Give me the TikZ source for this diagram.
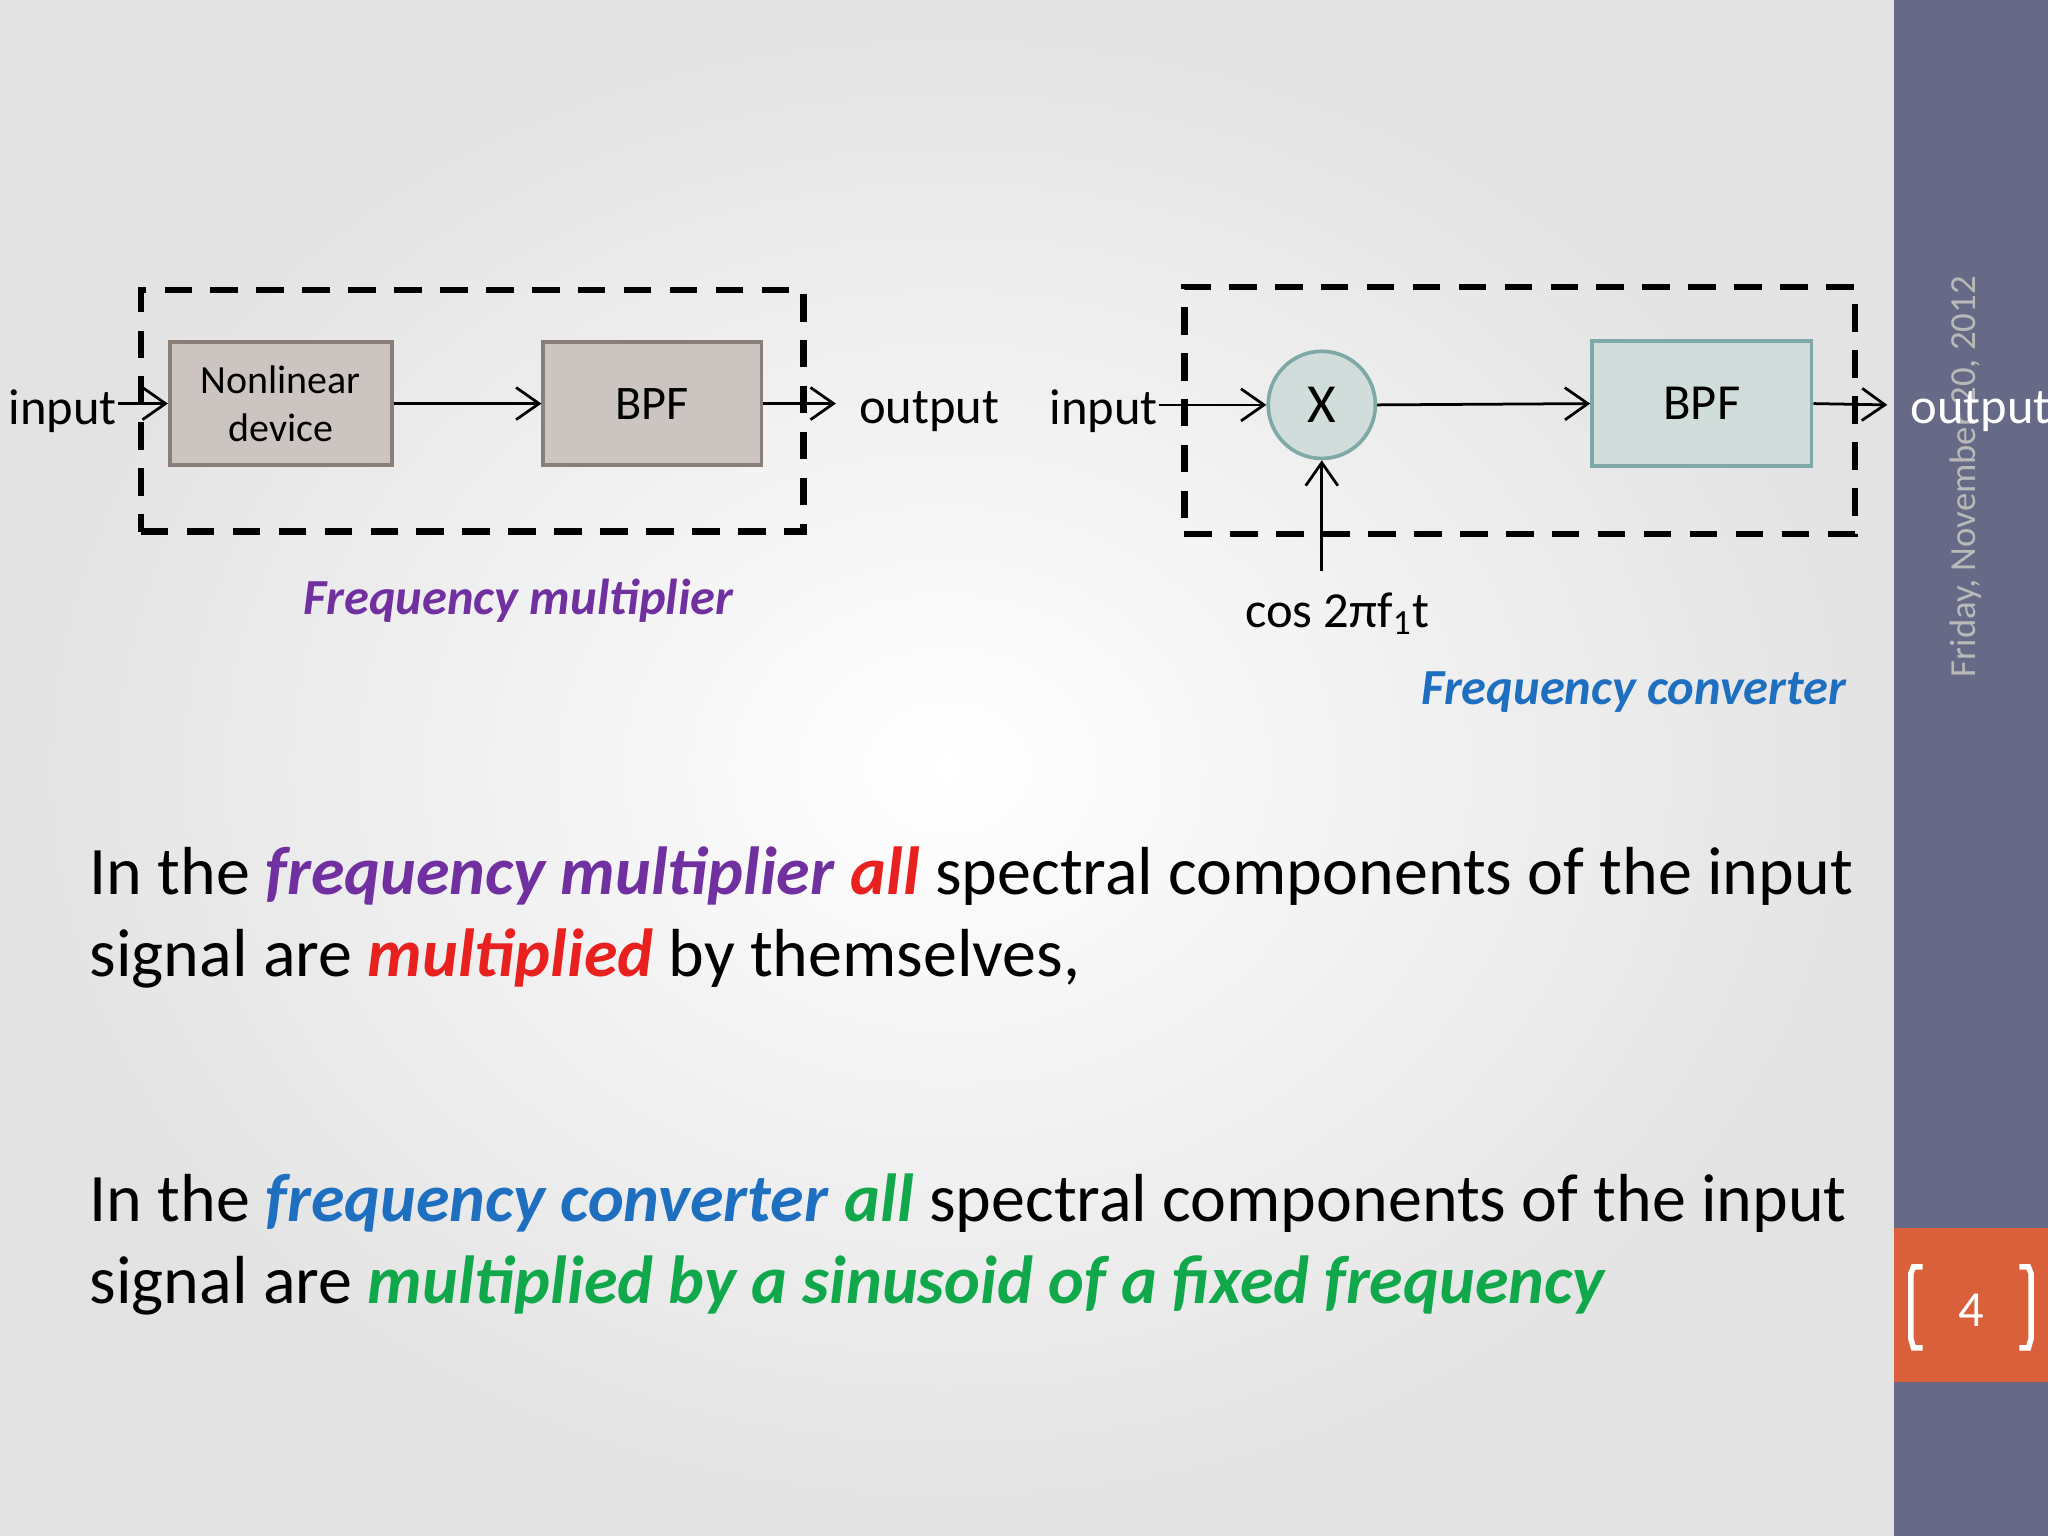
\documentclass[tikz,border=0pt]{standalone}
\usepackage{fontspec}
\setmainfont{Carlito}
\usetikzlibrary{arrows.meta}
\definecolor{side}{HTML}{666A86}
\definecolor{orng}{HTML}{D9603B}
\definecolor{purp}{HTML}{7030A0}
\definecolor{redc}{HTML}{E8201E}
\definecolor{bluc}{HTML}{1F6FC0}
\definecolor{grnc}{HTML}{10A84A}
\definecolor{lfill}{HTML}{CBC4C0}
\definecolor{ldraw}{HTML}{8A7F78}
\definecolor{rfill}{HTML}{D0DDDB}
\definecolor{rdraw}{HTML}{7FA9A6}
\begin{document}
\begin{tikzpicture}[x=0.01cm,y=-0.01cm,
  dbox/.style={draw,line width=1.4pt,dash pattern=on 6pt off 4pt},
  lbox/.style={draw=ldraw,fill=lfill,line width=0.8pt,font=\fontsize{8.7}{10.5}\selectfont,align=center},
  rbox/.style={draw=rdraw,fill=rfill,line width=0.8pt,font=\fontsize{11}{12}\selectfont},
  sig/.style={-{Straight Barb[length=5pt,width=7pt]},line width=0.6pt},
  lab/.style={font=\fontsize{11}{13}\selectfont},
  body/.style={font=\fontsize{14.8}{17}\selectfont,anchor=base west,inner sep=0}]
\useasboundingbox (0,0) rectangle (1568,1176);
\shade[inner color=white,middle color=white,outer color=gray!22] (0,0) rectangle (1450,1176);
\fill[side] (1450,0) rectangle (1568,1176);
\fill[orng] (1450,940) rectangle (1568,1058);
\draw[white,line width=1.2pt] (1472,970) -- (1465,970) -- (1463,975) -- (1463,1025) -- (1465,1032) -- (1472,1032);
\draw[white,line width=1.2pt] (1546,970) -- (1553,970) -- (1555,975) -- (1555,1025) -- (1553,1032) -- (1546,1032);
\node[white,font=\fontsize{11}{12}\selectfont] (pg) at (1509,1003) {4};
\node[gray!55,rotate=90,font=\fontsize{8}{9}\selectfont] (date) at (1505,365) {Friday, November 20, 2012};
% left diagram
\node[dbox,minimum width=5.07cm,minimum height=1.85cm,inner sep=0] (db1) at (361.5,314.5) {};
\node[lbox,minimum width=1.70cm,minimum height=0.94cm,inner sep=0] (nl) at (215,309) {Nonlinear\\device};
\node[lbox,minimum width=1.67cm,minimum height=0.94cm,inner sep=0,font=\fontsize{10.5}{12}\selectfont] (bpf1) at (499.5,309) {BPF};
\node[lab,anchor=east,inner sep=0] (in1) at (90,315) {input};
\node[lab,anchor=west,inner sep=0] (out1) at (657,315) {output};
\coordinate (o1) at (640,309);
\draw[sig] (in1.east |- nl.west) -- (nl.west);
\draw[sig] (nl.east) -- (bpf1.west);
\draw[sig] (bpf1.east) -- (o1);
\node[purp,font=\fontsize{11}{13}\selectfont\itshape\bfseries] (fm) at (397,460) {Frequency multiplier};
% right diagram
\node[dbox,minimum width=5.13cm,minimum height=1.89cm,inner sep=0] (db2) at (1163.5,314.5) {};
\node[circle,draw=rdraw,fill=rfill,line width=0.8pt,minimum size=0.82cm,inner sep=0,font=\fontsize{12}{14}\selectfont] (mx) at (1012,310) {X};
\node[rbox,minimum width=1.68cm,minimum height=0.96cm,inner sep=0] (bpf2) at (1303,309) {BPF};
\node[lab,anchor=east,inner sep=0] (in2) at (887,315) {input};
\node[lab,anchor=west,inner sep=0,white] (out2) at (1462,315) {output};
\coordinate (o2) at (1445,310);
\coordinate (cs) at (1012,437);
\draw[sig] (in2.east |- mx.west) -- (mx.west);
\draw[sig] (mx.east) -- (bpf2.west);
\draw[sig] (bpf2.east) -- (o2);
\draw[sig] (cs) -- (mx.south);
\node[lab] (cos) at (1024,470) {cos 2πf\textsubscript{1}t};
\node[bluc,font=\fontsize{11}{13}\selectfont\itshape\bfseries,anchor=east] (fc) at (1426,530) {Frequency converter};
% body
\node[body] (l1) at (68,685) {In the \textcolor{purp}{\textbf{\textit{frequency multiplier}}} \textcolor{redc}{\textbf{\textit{all}}} spectral components of the input};
\node[body] (l2) at (68,748) {signal are \textcolor{redc}{\textbf{\textit{multiplied}}} by themselves,};
\node[body] (l3) at (68,935) {In the \textcolor{bluc}{\textbf{\textit{frequency converter}}} \textcolor{grnc}{\textbf{\textit{all}}} spectral components of the input};
\node[body] (l4) at (68,998) {signal are \textcolor{grnc}{\textbf{\textit{multiplied by a sinusoid of a fixed frequency}}}};
\end{tikzpicture}
\end{document}
